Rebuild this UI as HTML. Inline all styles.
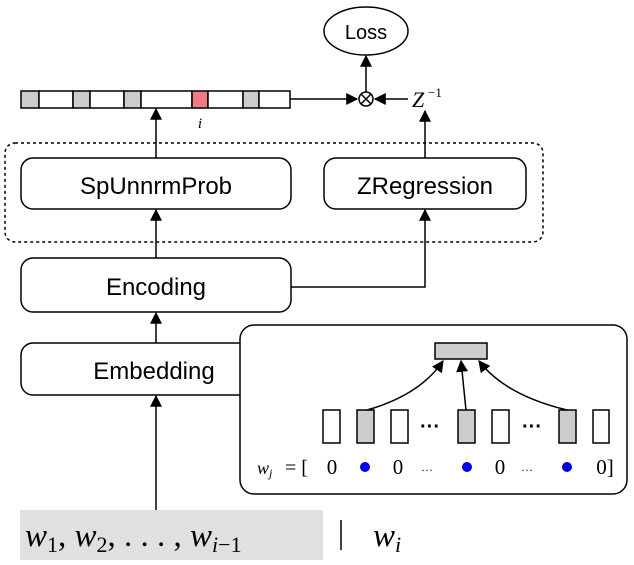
<!DOCTYPE html>
<html><head><meta charset="utf-8"><style>
body{margin:0;background:#fff}
svg{display:block}
text{font-family:"Liberation Sans",sans-serif}
text.s,.s text{font-family:"Liberation Serif",serif}
</style></head><body>
<svg width="634" height="565" viewBox="0 0 634 565" xmlns="http://www.w3.org/2000/svg">
<defs><marker id="a" viewBox="0 0 10 10" refX="9" refY="5" markerWidth="8" markerHeight="8" orient="auto-start-reverse"><path d="M0,0L10,5L0,10z" fill="#000"/></marker></defs>
<g stroke="#000" stroke-width="1.5">
<rect x="21" y="91" width="18" height="17" fill="#ccc"/>
<rect x="39" y="91" width="34" height="17" fill="#fff"/>
<rect x="73" y="91" width="17" height="17" fill="#ccc"/>
<rect x="90" y="91" width="34" height="17" fill="#fff"/>
<rect x="124" y="91" width="17" height="17" fill="#ccc"/>
<rect x="141" y="91" width="51" height="17" fill="#fff"/>
<rect x="192" y="91" width="16" height="17" fill="#f07a85"/>
<rect x="208" y="91" width="35" height="17" fill="#fff"/>
<rect x="243" y="91" width="16" height="17" fill="#ccc"/>
<rect x="259" y="91" width="31" height="17" fill="#fff"/>
</g>
<text x="200" y="128" class="s" font-style="italic" font-size="15" text-anchor="middle">i</text>
<ellipse cx="366" cy="31" rx="42" ry="24" fill="#fff" stroke="#000" stroke-width="1.5"/>
<text x="366" y="39" font-size="20" text-anchor="middle">Loss</text>
<g stroke="#000" stroke-width="1.5" fill="none">
<line x1="290" y1="99" x2="357" y2="99" marker-end="url(#a)"/>
<line x1="408" y1="99" x2="375" y2="99" marker-end="url(#a)"/>
<line x1="366" y1="92" x2="366" y2="56" marker-end="url(#a)"/>
<circle cx="366" cy="99" r="7"/>
<line x1="361" y1="94" x2="371" y2="104"/><line x1="371" y1="94" x2="361" y2="104"/>
<line x1="425" y1="158" x2="425" y2="111" marker-end="url(#a)"/>
<line x1="156" y1="158" x2="156" y2="109" marker-end="url(#a)"/>
<rect x="5" y="143" width="538" height="99" rx="10" stroke-dasharray="3,3"/>
<line x1="156" y1="258" x2="156" y2="210" marker-end="url(#a)"/>
<polyline points="291,287 425,287 425,210" marker-end="url(#a)"/>
<line x1="156" y1="343" x2="156" y2="313" marker-end="url(#a)"/>
<line x1="156" y1="510" x2="156" y2="396" marker-end="url(#a)"/>
</g>
<text x="412" y="107" class="s" font-style="italic" font-size="22">Z</text>
<text x="428" y="97" class="s" font-size="13">−1</text>
<rect x="21" y="158" width="270" height="51" rx="12" fill="#fff" stroke="#000" stroke-width="1.5"/>
<text x="156" y="194" font-size="24" text-anchor="middle">SpUnnrmProb</text>
<rect x="324" y="158" width="202" height="51" rx="12" fill="#fff" stroke="#000" stroke-width="1.5"/>
<text x="425" y="194" font-size="24" text-anchor="middle">ZRegression</text>
<rect x="21" y="258" width="270" height="54" rx="12" fill="#fff" stroke="#000" stroke-width="1.5"/>
<text x="156" y="295" font-size="24" text-anchor="middle">Encoding</text>
<rect x="21" y="343" width="240" height="52" rx="12" fill="#fff" stroke="#000" stroke-width="1.5"/>
<text x="154" y="379" font-size="24" text-anchor="middle">Embedding</text>
<rect x="240" y="325" width="387" height="169" rx="14" fill="#fff" stroke="#000" stroke-width="1.5"/>
<rect x="435" y="343" width="52" height="16" fill="#ccc" stroke="#000" stroke-width="1.5"/>
<g stroke="#000" stroke-width="1.5">
<rect x="323" y="410" width="17" height="33" fill="#fff"/>
<rect x="357" y="410" width="17" height="33" fill="#ccc"/>
<rect x="391" y="410" width="17" height="33" fill="#fff"/>
<rect x="458" y="410" width="17" height="33" fill="#ccc"/>
<rect x="492" y="410" width="17" height="33" fill="#fff"/>
<rect x="559" y="410" width="17" height="33" fill="#ccc"/>
<rect x="593" y="410" width="16" height="33" fill="#fff"/>
</g>
<g stroke="#000" stroke-width="1.5" fill="none">
<path d="M367,410 Q420,395 443,361" marker-end="url(#a)"/>
<line x1="466" y1="410" x2="461" y2="361" marker-end="url(#a)"/>
<path d="M567,410 Q505,395 479,361" marker-end="url(#a)"/>
</g>
<text x="430" y="433" font-size="20" font-weight="bold" text-anchor="middle">···</text>
<text x="532" y="433" font-size="20" font-weight="bold" text-anchor="middle">···</text>
<g class="s" font-size="21">
<text x="257" y="474" font-style="italic" font-size="18">w<tspan font-size="12" dy="3">j</tspan></text>
<text x="285" y="474" font-size="20">= [</text>
<text x="332" y="474" text-anchor="middle">0</text>
<text x="398" y="474" text-anchor="middle">0</text>
<text x="427" y="474" font-size="12" text-anchor="middle">···</text>
<text x="500" y="474" text-anchor="middle">0</text>
<text x="527" y="474" font-size="12" text-anchor="middle">···</text>
<text x="605" y="474" text-anchor="middle">0]</text>
</g>
<circle cx="365" cy="467" r="5" fill="#0000e6"/>
<circle cx="467" cy="467" r="5" fill="#0000e6"/>
<circle cx="567" cy="467" r="5" fill="#0000e6"/>
<rect x="20" y="510" width="303" height="50" fill="#e0e0e0"/>
<text x="25" y="546" class="s" font-style="italic" font-size="33">w<tspan font-size="22" dy="6" font-style="normal">1</tspan><tspan dy="-6" font-style="normal">, </tspan>w<tspan font-size="22" dy="6" font-style="normal">2</tspan><tspan dy="-6" font-style="normal">, . . . , </tspan>w<tspan font-size="22" dy="6">i</tspan><tspan font-size="22" font-style="normal">−1</tspan></text>
<line x1="341" y1="520" x2="341" y2="550" stroke="#000" stroke-width="1.5"/>
<text x="373" y="546" class="s" font-style="italic" font-size="33">w<tspan font-size="22" dy="6">i</tspan></text>
</svg>
</body></html>
